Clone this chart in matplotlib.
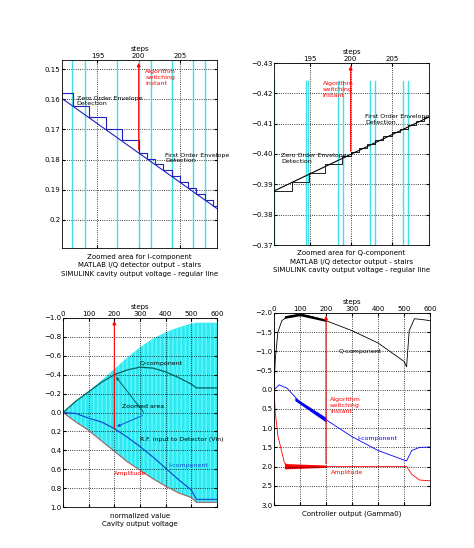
import matplotlib
matplotlib.use("Agg")
import matplotlib.pyplot as plt
import numpy as np

plt.rcParams['font.family'] = ['DejaVu Sans']
FS = 5

# ---------- data: zoomed I ----------
zi_line_x = [190.7, 209.5]
zi_line_y = [0.1597, 0.1963]
zi_step_x = [190.7, 192, 194, 196, 198, 200, 201, 202, 203, 204, 205, 206, 207, 208, 209, 209.5]
zi_step_y = [0.158, 0.1622, 0.1658, 0.1700, 0.1736, 0.1777, 0.1797, 0.1816, 0.1836, 0.1855, 0.1875, 0.1894, 0.1914, 0.1933, 0.1953, 0.1953]
zi_cyan_x = [191.9, 193.5, 197.4, 200.0, 201.5, 204.0, 206.6, 208.1]

# ---------- data: zoomed Q ----------
zq_line_x = [190.65, 209.55]
zq_line_y = [-0.3878, -0.4122]
zq_step_x = [190.65, 192.9, 194.9, 196.9, 198.9, 200, 201, 202, 203, 204, 205, 206, 207, 208, 209, 209.55]
zq_step_y = [-0.3878, -0.3909, -0.3937, -0.3967, -0.3994, -0.4006, -0.4019, -0.4032, -0.4045, -0.4058, -0.4071, -0.4084, -0.4097, -0.4110, -0.4122, -0.4122]
zq_cyan_x = [190.7, 194.5, 194.8, 198.4, 199.1, 202.4, 203.0, 206.4, 207.0]

# ---------- data: cavity output normalized ----------
cv_x = [0, 50, 100, 150, 200, 250, 300, 350, 400, 450, 500, 520, 600]
cv_q = [0, -0.12, -0.22, -0.32, -0.4, -0.45, -0.48, -0.47, -0.43, -0.37, -0.3, -0.26, -0.26]
cv_i = [0, 0.01, 0.06, 0.1, 0.17, 0.26, 0.36, 0.47, 0.59, 0.71, 0.82, 0.92, 0.92]
cv_amp = [0, 0.1, 0.19, 0.3, 0.41, 0.52, 0.61, 0.7, 0.78, 0.85, 0.9, 0.95, 0.95]
cv_env = [0, -0.12, -0.22, -0.34, -0.46, -0.58, -0.69, -0.78, -0.85, -0.9, -0.94, -0.95, -0.95]

# ---------- data: controller output ----------
co_q_x = [0, 5, 15, 30, 50, 100, 150, 200, 300, 400, 500, 510, 520, 540, 570, 600]
co_q_y = [0, -0.8, -1.5, -1.8, -1.9, -1.97, -1.9, -1.8, -1.54, -1.22, -0.74, -0.6, -1.54, -1.85, -1.83, -1.8]
co_i_x = [0, 20, 50, 100, 200, 300, 400, 500, 510, 530, 560, 600]
co_i_y = [0, -0.13, -0.04, 0.32, 0.78, 1.22, 1.58, 1.83, 1.85, 1.58, 1.5, 1.49]
co_a_x = [0, 5, 15, 40, 60, 200, 300, 400, 510, 530, 560, 600]
co_a_y = [0, 0.6, 1.2, 1.9, 2.0, 2.0, 2.0, 2.0, 2.0, 2.2, 2.35, 2.37]

W, H = 474, 548
fig = plt.figure(figsize=(W/100, H/100), dpi=100)

def mk(x0, y0, x1, y1):
    return fig.add_axes([x0/W, 1-y1/H, (x1-x0)/W, (y1-y0)/H])

def style(ax):
    ax.xaxis.tick_top()
    ax.xaxis.set_label_position('top')
    ax.set_xlabel('steps', fontsize=FS, labelpad=1)
    ax.tick_params(labelsize=FS, length=2, pad=1, direction='in', top=True, right=True, bottom=True)
    ax.grid(True, color='black', linestyle=':', linewidth=0.6)
    for s in ax.spines.values():
        s.set_linewidth(0.6)

def below(ax, lines):
    for k, t in enumerate(lines):
        ax.text(0.5, -0.03 - k*0.045, t, transform=ax.transAxes, ha='center', va='top', fontsize=FS)

# Top-left
ax = mk(62, 60, 217, 248)
style(ax)
for cx in zi_cyan_x:
    ax.axvline(cx, color='#40e0e8', lw=1.0)
ax.plot(zi_line_x, zi_line_y, color='#2020c0', lw=0.8)
ax.step(zi_step_x, zi_step_y, where='post', color='#2020c0', lw=0.8)
ax.set_xlim(190.7, 209.5); ax.set_ylim(0.2094, 0.1469)
ax.set_xticks([195, 200, 205]); ax.set_yticks([0.15, 0.16, 0.17, 0.18, 0.19, 0.2])
ax.set_yticklabels(['0.15', '0.16', '0.17', '0.18', '0.19', '0.2'])
ax.annotate('', xy=(200, 0.1469), xytext=(200, 0.1777),
            arrowprops=dict(arrowstyle='-|>', color='red', lw=0.8, mutation_scale=5))
ax.text(200.8, 0.150, 'Algorithm\nswitching\ninstant', color='red', fontsize=FS-0.5, va='top')
ax.text(192.5, 0.1605, 'Zero Order Envelope\nDetection', fontsize=FS-0.5, va='center')
ax.text(203.2, 0.1795, 'First Order Envelope\nDetection', fontsize=FS-0.5, va='center')
below(ax, ['Zoomed area for I-component', 'MATLAB I/Q detector output - stairs',
           'SIMULINK cavity output voltage - regular line'])

# Top-right
ax = mk(274, 63, 429, 245)
style(ax)
for cx in zq_cyan_x:
    ax.axvline(cx, ymax=0.9, color='#40e0e8', lw=1.0)
ax.plot(zq_line_x, zq_line_y, color='black', lw=0.8)
ax.step(zq_step_x, zq_step_y, where='post', color='black', lw=0.6)
ax.set_xlim(190.65, 209.55); ax.set_ylim(-0.37, -0.43)
ax.set_xticks([195, 200, 205]); ax.set_yticks([-0.43, -0.42, -0.41, -0.4, -0.39, -0.38, -0.37])
ax.annotate('', xy=(200, -0.43), xytext=(200, -0.4),
            arrowprops=dict(arrowstyle='-|>', color='red', lw=0.8, mutation_scale=5))
ax.text(196.6, -0.424, 'Algorithm\nswitching\ninstant', color='red', fontsize=FS-0.5, va='top')
ax.text(191.5, -0.3985, 'Zero Order Envelope\nDetection', fontsize=FS-0.5, va='center')
ax.text(201.8, -0.4115, 'First Order Envelope\nDetection', fontsize=FS-0.5, va='center')
below(ax, ['Zoomed area for Q-component', 'MATLAB I/Q detector output - stairs',
           'SIMULINK cavity output voltage - regular line'])

# Bottom-left
ax = mk(63, 318, 217, 507)
style(ax)
ax.fill_between(cv_x, cv_env, cv_amp, color='#30e8f0', lw=0, hatch='||||', edgecolor='#60f8ff')
ax.plot(cv_x, cv_amp, color='#a06060', lw=0.8)
ax.plot(cv_x, cv_q, color='#006060', lw=0.9)
ax.plot(cv_x, cv_i, color='#1050d0', lw=0.9)
ax.set_xlim(0, 600); ax.set_ylim(1, -1)
ax.set_xticks([0, 100, 200, 300, 400, 500, 600])
ax.set_yticks([-1, -0.8, -0.6, -0.4, -0.2, 0, 0.2, 0.4, 0.6, 0.8, 1])
ax.annotate('', xy=(200, -1), xytext=(200, 0.2),
            arrowprops=dict(arrowstyle='-|>', color='red', lw=0.8, mutation_scale=5))
ax.annotate('', xy=(200, -0.4), xytext=(320, 0.02),
            arrowprops=dict(arrowstyle='-|>', color='#006060', lw=0.7, mutation_scale=4))
ax.annotate('', xy=(200, 0.16), xytext=(320, 0.02),
            arrowprops=dict(arrowstyle='-|>', color='#1050d0', lw=0.7, mutation_scale=4))
ax.text(230, -0.05, 'Zoomed area', fontsize=FS-0.5)
ax.text(300, -0.5, 'Q-component', fontsize=FS-0.5)
ax.text(410, 0.58, 'I-component', fontsize=FS-0.5, color='#1050d0')
ax.text(200, 0.66, 'Amplitude', fontsize=FS-0.5, color='red')
ax.text(300, 0.3, 'R.F. input to Detector (Vin)', fontsize=FS-0.5)
below(ax, ['normalized value', 'Cavity output voltage'])

# Bottom-right
ax = mk(274, 313, 430, 505)
style(ax)
ax.plot(co_q_x, co_q_y, color='black', lw=0.6)
ax.plot(co_i_x, co_i_y, color='blue', lw=0.6)
ax.plot(co_a_x, co_a_y, color='red', lw=0.6)
ax.fill_between([40, 100, 200], [-1.93, -2.0, -1.84], [-1.86, -1.93, -1.78], color='black', lw=0)
ax.fill_between([80, 200], [0.2, 0.72], [0.28, 0.84], color='blue', lw=0)
ax.fill_between([40, 200], [1.92, 1.96], [2.06, 2.02], color='red', lw=0)
ax.set_xlim(0, 600); ax.set_ylim(3, -2)
ax.set_xticks([0, 100, 200, 300, 400, 500, 600])
ax.set_yticks([-2, -1.5, -1, -0.5, 0, 0.5, 1, 1.5, 2, 2.5, 3])
ax.annotate('', xy=(200, -2), xytext=(200, 2.0),
            arrowprops=dict(arrowstyle='-|>', color='red', lw=0.8, mutation_scale=5))
ax.text(215, 0.2, 'Algorithm\nswitching\ninstant', color='red', fontsize=FS-0.5, va='top')
ax.text(250, -0.95, 'Q-component', fontsize=FS-0.5)
ax.text(320, 1.3, 'I-component', fontsize=FS-0.5, color='blue')
ax.text(220, 2.2, 'Amplitude', fontsize=FS-0.5, color='red')
below(ax, ['Controller output (Gamma0)'])

fig.savefig('out.png', dpi=100)
